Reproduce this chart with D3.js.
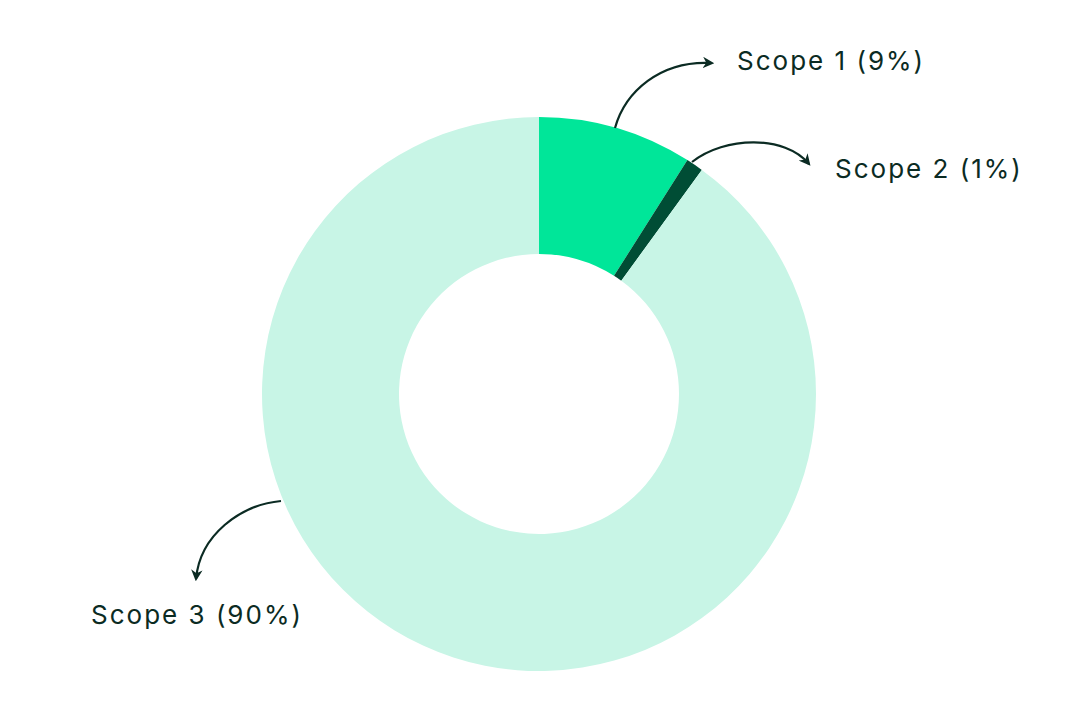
<!DOCTYPE html>
<html><head><meta charset="utf-8">
<script src="https://cdn.jsdelivr.net/npm/d3@7"></script>
<style>html,body{margin:0;padding:0;background:#fff;}svg{display:block;}</style>
</head><body>
<svg id="chart" width="1080" height="706"></svg>
<script>
const categories = ["Scope 1", "Scope 2", "Scope 3"];
const values = [9, 1, 90];
const labels = ["Scope 1 (9%)", "Scope 2 (1%)", "Scope 3 (90%)"];
const colors = ["#00E699", "#004D35", "#C8F5E6"];

const svg = d3.select("#chart");
const cx = 539, cy = 394, R = 277, r = 140;
const g = svg.append("g").attr("transform", `translate(${cx},${cy})`);
const pie = d3.pie().sort(null).value(d => d)(values);
const arc = d3.arc().innerRadius(r).outerRadius(R);
g.selectAll("path.slice").data(pie).enter().append("path")
  .attr("class", "slice")
  .attr("d", arc)
  .attr("fill", (d, i) => colors[i]);

const ink = "#0B2B23";
svg.append("defs").append("marker")
  .attr("id", "ah").attr("viewBox", "0 0 10 10").attr("refX", 8).attr("refY", 5)
  .attr("markerWidth", 5.2).attr("markerHeight", 5.2).attr("orient", "auto")
  .append("path").attr("d", "M0,0 L10,5 L0,10 L3,5 Z").attr("fill", ink);

// leader arrows (annotation geometry)
const arrows = [
  "M615,128 C625,92 660,60 712,63",
  "M692,162 C725,136 785,135 809,164",
  "M281,501 C240,505 200,535 196,579"
];
svg.selectAll("path.arrow").data(arrows).enter().append("path")
  .attr("class", "arrow")
  .attr("d", d => d).attr("fill", "none").attr("stroke", ink)
  .attr("stroke-width", 2.2).attr("marker-end", "url(#ah)");

const labelPos = [[737, 70], [835, 178], [91, 624]];
svg.selectAll("text.lab").data(labels).enter().append("text")
  .attr("class", "lab")
  .attr("x", (d, i) => labelPos[i][0]).attr("y", (d, i) => labelPos[i][1])
  .attr("font-family", "Inter, sans-serif").attr("font-size", 26)
  .attr("letter-spacing", 2)
  .attr("fill", ink).text(d => d);
</script>
</body></html>
